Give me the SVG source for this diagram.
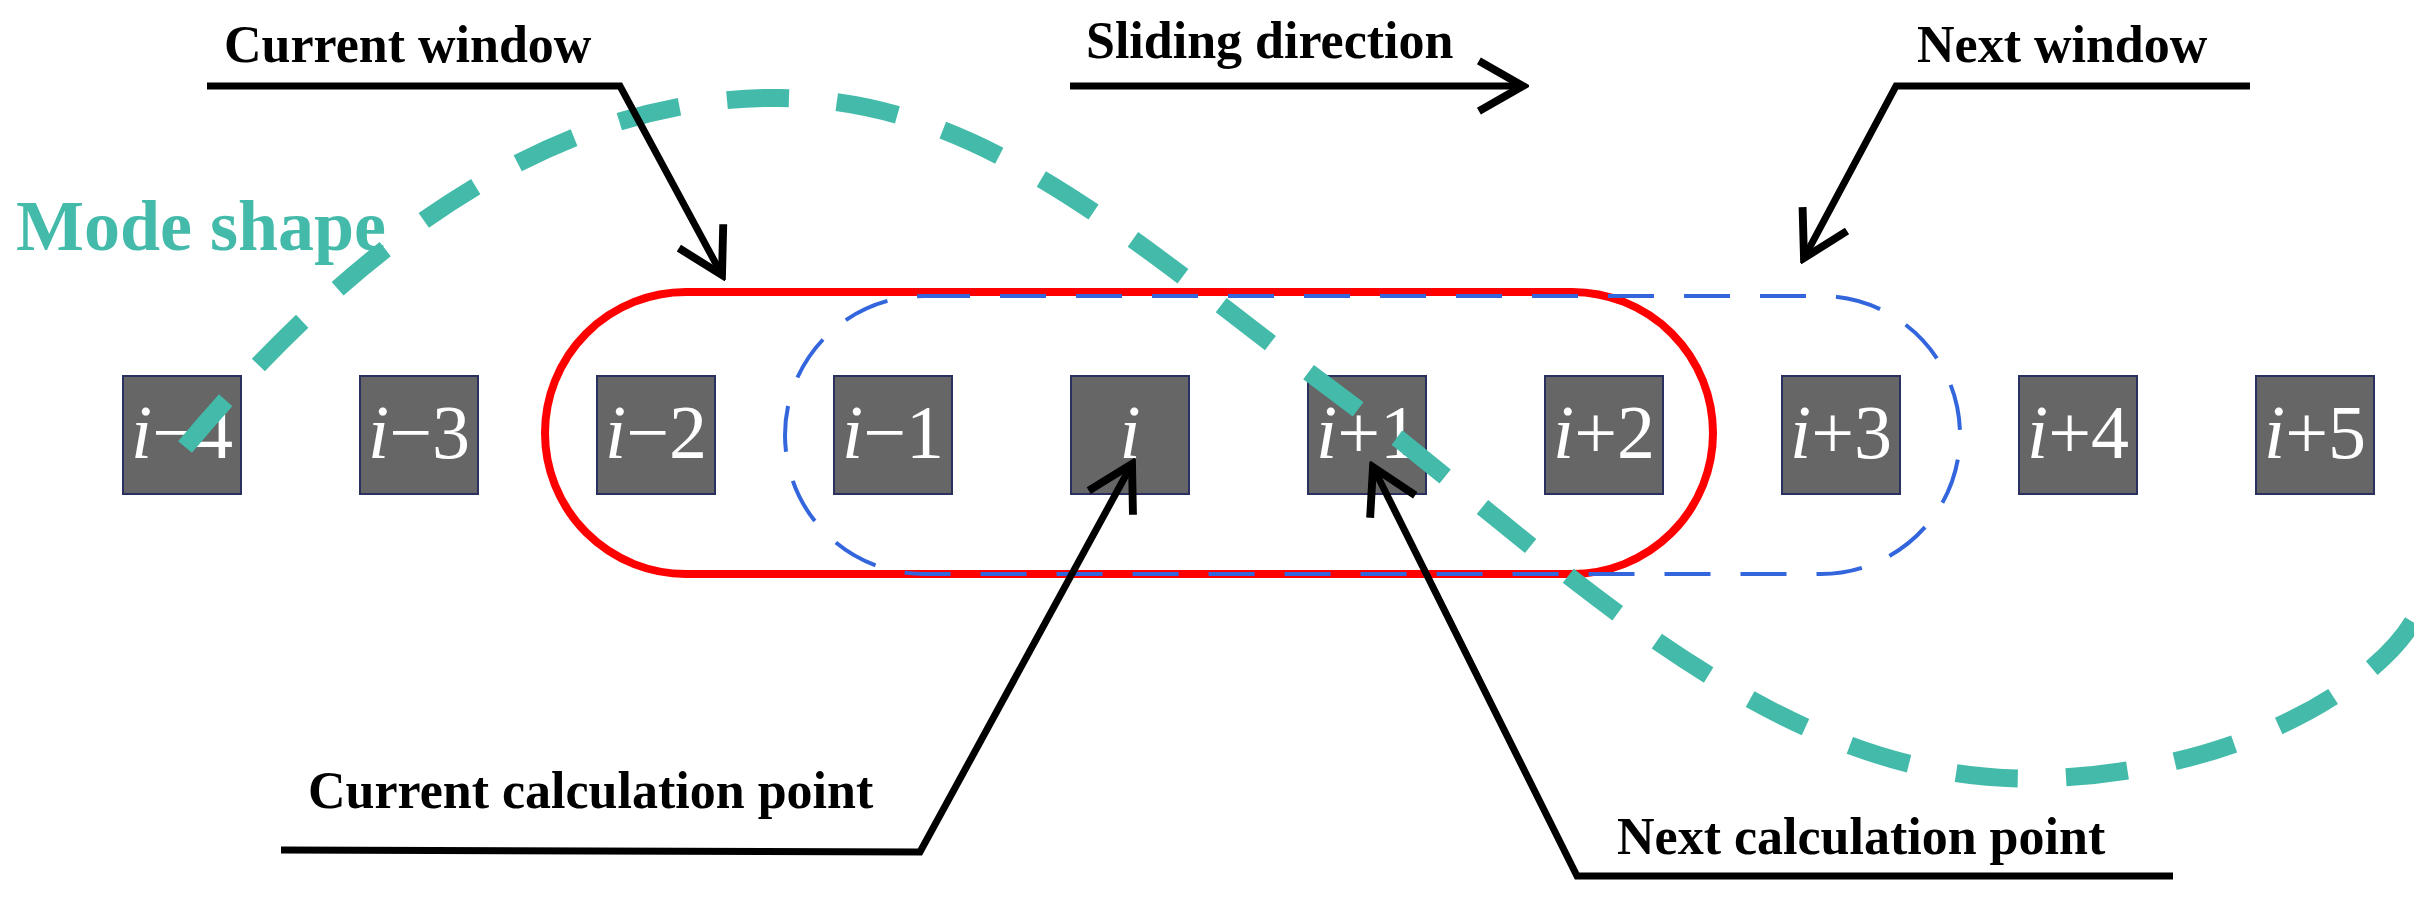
<svg xmlns="http://www.w3.org/2000/svg" width="2414" height="898" viewBox="0 0 2414 898">
<style>
.box{fill:#666666;stroke:#2a3060;stroke-width:2}
.lbl{font-family:"Liberation Serif",serif;font-size:76px;fill:#fff;text-anchor:middle}
.t{font-family:"Liberation Serif",serif;font-weight:bold;font-size:52px;fill:#000}
.ld{fill:none;stroke:#000;stroke-width:7}
</style>
<defs>
<marker id="ah" viewBox="0 0 20 20" refX="18" refY="10" markerWidth="9" markerHeight="9" orient="auto" markerUnits="strokeWidth">
<path d="M4,2 L18,10 L4,18" fill="none" stroke="#000" stroke-width="2.5"/>
</marker>
</defs>
<rect width="2414" height="898" fill="#fff"/>
<g id="nodes">
<g id="n-4"><rect class="box" x="123" y="376" width="118" height="118"/><text class="lbl" x="182" y="458"><tspan font-style="italic">i</tspan>−4</text></g>
<g id="n-3"><rect class="box" x="360" y="376" width="118" height="118"/><text class="lbl" x="419" y="458"><tspan font-style="italic">i</tspan>−3</text></g>
<g id="n-2"><rect class="box" x="597" y="376" width="118" height="118"/><text class="lbl" x="656" y="458"><tspan font-style="italic">i</tspan>−2</text></g>
<g id="n-1"><rect class="box" x="834" y="376" width="118" height="118"/><text class="lbl" x="893" y="458"><tspan font-style="italic">i</tspan>−1</text></g>
<g id="n0"><rect class="box" x="1071" y="376" width="118" height="118"/><text class="lbl" x="1130" y="458"><tspan font-style="italic">i</tspan></text></g>
<g id="n1"><rect class="box" x="1308" y="376" width="118" height="118"/><text class="lbl" x="1367" y="458"><tspan font-style="italic">i</tspan>+1</text></g>
<g id="n2"><rect class="box" x="1545" y="376" width="118" height="118"/><text class="lbl" x="1604" y="458"><tspan font-style="italic">i</tspan>+2</text></g>
<g id="n3"><rect class="box" x="1782" y="376" width="118" height="118"/><text class="lbl" x="1841" y="458"><tspan font-style="italic">i</tspan>+3</text></g>
<g id="n4"><rect class="box" x="2019" y="376" width="118" height="118"/><text class="lbl" x="2078" y="458"><tspan font-style="italic">i</tspan>+4</text></g>
<g id="n5"><rect class="box" x="2256" y="376" width="118" height="118"/><text class="lbl" x="2315" y="458"><tspan font-style="italic">i</tspan>+5</text></g>
</g>
<g id="windows">
<rect x="545" y="292" width="1168" height="282" rx="141" fill="none" stroke="#ff0000" stroke-width="8"/>
<rect x="785" y="296" width="1175" height="278" rx="139" fill="none" stroke="#3366dd" stroke-width="4" stroke-dasharray="46 30"/>
</g>
<path id="mode" d="M185,447 C350,250 550,95 780,98 C1000,100 1150,260 1400,440 C1600,600 1800,790 2050,778 C2250,770 2380,680 2414,620" fill="none" stroke="#44bbaa" stroke-width="18" stroke-dasharray="62 48"/>
<g id="connectors">
<polyline class="ld" points="207,86 620,86 722,275" marker-end="url(#ah)"/>
<polyline class="ld" points="1070,86 1523,86" marker-end="url(#ah)"/>
<polyline class="ld" points="2250,86 1896,86 1804,258" marker-end="url(#ah)"/>
<polyline class="ld" points="281,850 920,852 1132,464" marker-end="url(#ah)"/>
<polyline class="ld" points="2173,876 1577,876 1373,467" marker-end="url(#ah)"/>
</g>
<g id="labels">
<text class="t" x="224" y="62">Current window</text>
<text class="t" x="1086" y="58">Sliding direction</text>
<text class="t" x="1917" y="62">Next window</text>
<text x="16" y="250" font-family="Liberation Serif,serif" font-weight="bold" font-size="72" fill="#44bbaa">Mode shape</text>
<text class="t" x="308" y="808">Current calculation point</text>
<text class="t" x="1617" y="854">Next calculation point</text>
</g>
</svg>
